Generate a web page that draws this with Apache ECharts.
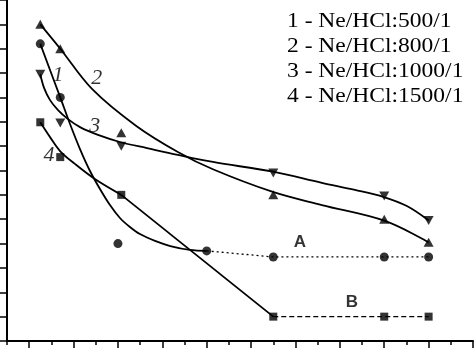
<!DOCTYPE html>
<html><head><meta charset="utf-8">
<script src="https://cdn.jsdelivr.net/npm/echarts@6/dist/echarts.min.js"></script>
<style>html,body{margin:0;padding:0;background:#fff}#c{width:474px;height:348px}</style>
</head><body><div id="c"></div>
<script>
// ---- measured points (markers) ----
const s1Points = [[1.5,12.2],[2.4,10.0],[5.0,4.0],[9,3.7],[12,3.45],[17,3.45],[19,3.45]];
const s2Points = [[1.5,13.0],[2.4,12.0],[5.15,8.55],[12,6.0],[17,5.0],[19,4.05]];
const s3Points = [[1.5,10.95],[2.4,8.95],[5.15,8.0],[12,6.9],[17,5.95],[19,4.95]];
const s4Points = [[1.5,8.98],[2.4,7.55],[5.15,6.0],[12,1.0],[17,1.0],[19,1.0]];

// ---- fitted curves ----
const curve1 = [[1.5,12.2],[2.4,10.0],[2.84,8.91],[3.29,7.88],[3.74,6.98],[4.19,6.24],[4.64,5.58],[5.09,5.05],[5.54,4.68],[5.99,4.39],[6.67,4.11],[7.36,3.9],[8.24,3.74],[9,3.7]];
const tail1 = [[9,3.7],[12,3.45],[17,3.45],[19,3.45]];
const curve2 = [[1.5,13.0],[2.4,12.0],[3.83,10.35],[5.81,8.84],[7.7,7.76],[9.28,7.05],[11.98,6.12],[14.19,5.58],[17.03,4.93],[19,4.05]];
const curve3 = [[1.5,10.95],[1.67,10.39],[1.94,9.89],[2.3,9.48],[2.75,9.11],[3.29,8.78],[4.1,8.46],[5.09,8.17],[6.31,7.92],[7.7,7.64],[9.28,7.35],[11.98,6.95],[14.19,6.49],[15.68,6.2],[16.98,5.91],[18.02,5.54],[19,4.95]];
const curve4 = [[1.5,8.98],[1.94,8.37],[2.39,7.8],[3.06,7.27],[3.96,6.65],[5.15,6.0]];
const line4 = [[5.15,6.0],[12,1.0]];
const tail4 = [[12,1.0],[17,1.0],[19,1.0]];

// ---- texts ----
const legendLines = ['1 - Ne/HCl:500/1','2 - Ne/HCl:800/1','3 - Ne/HCl:1000/1','4 - Ne/HCl:1500/1'];
const curveLabels = [[2.3,10.92,'1'],[4.05,10.8,'2'],[3.96,8.83,'3'],[1.89,7.64,'4']];
const regionLabels = [[13.2,4.06,'A'],[15.54,1.6,'B']];

// ---- axis ticks ----
const xMajorTicks = [1,3,5,7,9,11,13,15,17,19,21];
const xMin = 0, xMax = 21, yMin = 0, yMax = 14;

const chart = echarts.init(document.getElementById('c'), null, {renderer:'canvas'});
const black = '#000';
const curveStyle = {color:black, width:1.8};
function curve(data, extra) {
  return Object.assign({type:'line', data:data, showSymbol:false, smooth:0.35, silent:true,
    lineStyle:Object.assign({}, curveStyle), itemStyle:{color:black}, z:2}, extra||{});
}
function markers(data, symbol, size, rotate) {
  return {type:'scatter', data:data, symbol:symbol, symbolSize:size, symbolRotate:rotate||0,
    itemStyle:{color:black}, z:5, silent:true};
}
const option = {
  animation:false,
  backgroundColor:'#fff',
  grid:{left:7, right:1, top:0, bottom:7, containLabel:false},
  xAxis:[
    {type:'value', min:xMin, max:xMax, interval:1,
     axisLine:{show:true, onZero:false, lineStyle:{color:black, width:2}},
     axisTick:{show:true, length:4, lineStyle:{color:black, width:1.5}},
     axisLabel:{show:false}, splitLine:{show:false}},
    {type:'value', min:xMin, max:xMax, position:'bottom', interval:1,
     axisLine:{show:false},
     axisTick:{show:true, length:7, customValues:xMajorTicks, lineStyle:{color:black, width:1.5}},
     axisLabel:{show:false}, splitLine:{show:false}}
  ],
  yAxis:{type:'value', min:yMin, max:yMax, interval:1,
    axisLine:{show:true, onZero:false, lineStyle:{color:black, width:2}},
    axisTick:{show:true, length:7, lineStyle:{color:black, width:1.5}},
    axisLabel:{show:false}, splitLine:{show:false}},
  series:[
    curve(curve1),
    curve(tail1, {smooth:false, lineStyle:{color:black, width:1.3, type:[2,3]}}),
    curve(curve2),
    curve(curve3),
    curve(curve4),
    curve(line4, {smooth:false}),
    curve(tail4, {smooth:false, lineStyle:{color:black, width:1.4, type:[5,3]}}),
    markers(s1Points, 'circle', 9),
    markers(s2Points, 'triangle', [10,9]),
    markers(s3Points, 'triangle', [10,9], 180),
    markers(s4Points, 'rect', 8),
    {type:'scatter', data:curveLabels, symbolSize:0, silent:true, z:6,
     label:{show:true, position:'inside', formatter:p=>p.value[2], color:black,
       fontFamily:'Liberation Serif', fontStyle:'italic', fontSize:22}},
    {type:'scatter', data:regionLabels, symbolSize:0, silent:true, z:6,
     label:{show:true, position:'inside', formatter:p=>p.value[2], color:black,
       fontFamily:'Liberation Sans', fontWeight:'bold', fontSize:17}}
  ],
  graphic: legendLines.map((t,i)=>({
    type:'text', x:287, y:21.7 + i*25, scaleX:1.12, silent:true,
    style:{text:t, x:0, y:0, fill:black, font:'21px "Liberation Serif"', textAlign:'left', textVerticalAlign:'middle'}
  }))
};
chart.setOption(option);
</script>
</body></html>
